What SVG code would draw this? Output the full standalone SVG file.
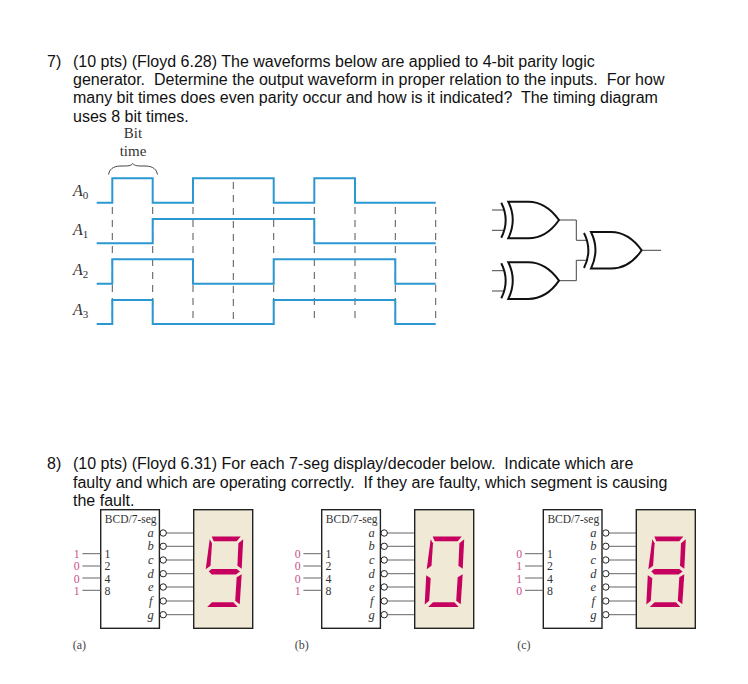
<svg xmlns="http://www.w3.org/2000/svg" xmlns:xlink="http://www.w3.org/1999/xlink" width="748" height="684" viewBox="0 0 748 684">
<style>
.q{font:16px "Liberation Sans",Arial,sans-serif;fill:#111;white-space:pre}
.s{font-family:"Liberation Serif","Times New Roman",serif;fill:#333}
.hd{font-size:11.500px;text-anchor:middle}
.lb{font-size:11.800px;text-anchor:middle}
.it{font-style:italic;font-size:12.500px;text-anchor:middle}
.pk{font-size:11.800px;text-anchor:middle;fill:#c9508c}
.cap{font-size:12px;fill:#444}
.w{fill:none;stroke:#2b98d2;stroke-width:2}
.d{fill:none;stroke:#555;stroke-width:1;stroke-dasharray:7 6}
.g{fill:none;stroke:#111;stroke-width:2}
.t{fill:none;stroke:#444;stroke-width:1}
.box{fill:#fff;stroke:#222;stroke-width:1.4}
.disp{fill:#efe9d6;stroke:#222;stroke-width:1.4}
.bub{fill:#fff;stroke:#222;stroke-width:1}
.l{stroke:#666;stroke-width:1;fill:none}
.seg{fill:#c6005e}
</style>
<defs>
<g id="xor"><path class="g" d="M0 0H20C34 0 44 9 50.700 18.300C44 28 34 36.600 20 36.600H0C6 24 6 12 0 0Z"/><path class="g" d="M-7 1C-1 13 -1 24 -7 36"/></g>
<g id="chip"><rect class="box" x="0" y="0" width="58.700" height="118.600"/>
<text class="s hd" x="30" y="13.500">BCD/7-seg</text>
<text class="s lb" x="6.700" y="48">1</text><text class="s lb" x="6.700" y="60.500">2</text><text class="s lb" x="6.700" y="73">4</text><text class="s lb" x="6.700" y="85.500">8</text>
<text class="s it" x="50" y="27">a</text><text class="s it" x="50" y="40.500">b</text><text class="s it" x="50" y="54">c</text><text class="s it" x="50" y="68">d</text><text class="s it" x="50" y="81">e</text><text class="s it" x="50" y="95">f</text><text class="s it" x="50" y="109">g</text>
<path class="l" d="M-18.300 44H0M-18.300 56.300H0M-18.300 68.300H0M-18.300 80.600H0"/>
<path class="l" d="M62 23.300H93M62 36.600H93M62 50.300H93M62 64H93M62 77.300H93M62 91.300H93M62 105H93"/>
<circle class="bub" cx="62.500" cy="23.300" r="3.200"/><circle class="bub" cx="62.500" cy="36.600" r="3.200"/><circle class="bub" cx="62.500" cy="50.300" r="3.200"/><circle class="bub" cx="62.500" cy="64" r="3.200"/><circle class="bub" cx="62.500" cy="77.300" r="3.200"/><circle class="bub" cx="62.500" cy="91.300" r="3.200"/><circle class="bub" cx="62.500" cy="105" r="3.200"/>
<rect class="disp" x="93" y="0" width="59" height="118.600"/>
</g>
<polygon id="sa" class="seg" points="18,26.800 47,26.800 43,31.500 20,31.500"/>
<polygon id="sb" class="seg" points="49.500,29.500 48,59 43.700,56 44.700,33.500"/>
<polygon id="sc" class="seg" points="48,64.500 46,94.500 41.500,91 43,67.500"/>
<polygon id="sd" class="seg" points="13.500,97.300 18.300,92.500 39.700,92.500 44,97.300"/>
<polygon id="se" class="seg" points="11.500,65.500 16,68.500 14.500,91 10,94.800"/>
<polygon id="sf" class="seg" points="16,29.500 18.300,33.500 16.800,56 12,59.500"/>
<polygon id="sg" class="seg" points="15,61.500 18,59.300 43,59.300 46.300,61.700 42.300,64.900 18,64.900"/>
</defs>

<g id="question-7">
<text class="q" x="47" y="67">7)</text>
<text class="q" x="73" y="67">(10 pts) (Floyd 6.28) The waveforms below are applied to 4-bit parity logic</text>
<text class="q" x="73" y="85">generator.  Determine the output waveform in proper relation to the inputs.  For how</text>
<text class="q" x="73" y="103">many bit times does even parity occur and how is it indicated?  The timing diagram</text>
<text class="q" x="73" y="121.500">uses 8 bit times.</text>
</g>

<g id="bit-time">
<text class="s" x="133" y="138" font-size="15" text-anchor="middle">Bit</text>
<text class="s" x="133" y="156" font-size="15" text-anchor="middle">time</text>
<path class="t" d="M108.500 174.500C110 167 116 166 122 166C128 166 131 166 132.700 163.500C134.500 166 138 166 144 166C150 166 156 167 157.500 174.500"/>
</g>

<g id="waveforms">
<g id="guides">
<path class="d" d="M112.300 207V324M152.700 207V324M193 207V324M233.300 182V324M273.700 207V324M314.300 207V324M355 207V324M395.300 207V324M435.700 207V324"/>
</g>
<path id="A0-wave" class="w" d="M96.700 202.700H112.300V178.300H152.700V202.700H193V178.300H273.700V202.700H314.300V178.300H355V202.700H435.700"/>
<path id="A1-wave" class="w" d="M96.700 243.300H152.700V219H314.300V243.300H435.700"/>
<path id="A2-wave" class="w" d="M96.700 283.700H112.300V259.300H193V283.700H273.700V259.300H395.300V283.700H435.700"/>
<path id="A3-wave" class="w" d="M96.700 324H112.300V300H152.700V324H273.700V300H395.300V324H435.700"/>
<g id="wave-labels" class="s" font-style="italic" font-size="16">
<text x="73" y="196">A<tspan font-size="11" font-style="normal" dy="3">0</tspan></text>
<text x="73" y="235">A<tspan font-size="11" font-style="normal" dy="3">1</tspan></text>
<text x="73" y="275">A<tspan font-size="11" font-style="normal" dy="3">2</tspan></text>
<text x="73" y="315">A<tspan font-size="11" font-style="normal" dy="3">3</tspan></text>
</g>
</g>

<g id="connectors">
<path class="t" d="M492 210H505M492 230.300H505M492 270.700H505M492 291H505M559 220H576.300V240.300H587M559 280.700H576.300V260.300H587M642.300 250.300H661"/>
</g>
<g id="xor-top"><use xlink:href="#xor" href="#xor" x="508.300" y="201.700"/></g>
<g id="xor-bottom"><use xlink:href="#xor" href="#xor" x="508.300" y="262.300"/></g>
<g id="xor-output"><use xlink:href="#xor" href="#xor" x="591" y="232"/></g>

<g id="question-8">
<text class="q" x="47" y="469">8)</text>
<text class="q" x="73" y="469">(10 pts) (Floyd 6.31) For each 7-seg display/decoder below.  Indicate which are</text>
<text class="q" x="73" y="487.500">faulty and which are operating correctly.  If they are faulty, which segment is causing</text>
<text class="q" x="73" y="505.500">the fault.</text>
</g>

<g id="display-a" transform="translate(100.700 509.700)">
<use xlink:href="#chip" href="#chip"/>
<g transform="translate(93 0)"><use href="#sa" xlink:href="#sa"/><use href="#sb" xlink:href="#sb"/><use href="#sc" xlink:href="#sc"/><use href="#sd" xlink:href="#sd"/><use href="#sf" xlink:href="#sf"/><use href="#sg" xlink:href="#sg"/></g>
<text class="s pk" x="-24" y="48">1</text><text class="s pk" x="-24" y="60.500">0</text><text class="s pk" x="-24" y="73">0</text><text class="s pk" x="-24" y="85.500">1</text>
<text class="s cap" x="-28" y="139">(a)</text>
</g>
<g id="display-b" transform="translate(321.700 509.700)">
<use xlink:href="#chip" href="#chip"/>
<g transform="translate(93 0)"><use href="#sa" xlink:href="#sa"/><use href="#sb" xlink:href="#sb"/><use href="#sc" xlink:href="#sc"/><use href="#sd" xlink:href="#sd"/><use href="#se" xlink:href="#se"/><use href="#sf" xlink:href="#sf"/></g>
<text class="s pk" x="-24" y="48">0</text><text class="s pk" x="-24" y="60.500">0</text><text class="s pk" x="-24" y="73">0</text><text class="s pk" x="-24" y="85.500">1</text>
<text class="s cap" x="-27" y="139">(b)</text>
</g>
<g id="display-c" transform="translate(543.300 509.700)">
<use xlink:href="#chip" href="#chip"/>
<g transform="translate(93 0)"><use href="#sa" xlink:href="#sa"/><use href="#sb" xlink:href="#sb"/><use href="#sc" xlink:href="#sc"/><use href="#sd" xlink:href="#sd"/><use href="#se" xlink:href="#se"/><use href="#sf" xlink:href="#sf"/><use href="#sg" xlink:href="#sg"/></g>
<text class="s pk" x="-24" y="48">0</text><text class="s pk" x="-24" y="60.500">1</text><text class="s pk" x="-24" y="73">1</text><text class="s pk" x="-24" y="85.500">0</text>
<text class="s cap" x="-26" y="139">(c)</text>
</g>
</svg>
